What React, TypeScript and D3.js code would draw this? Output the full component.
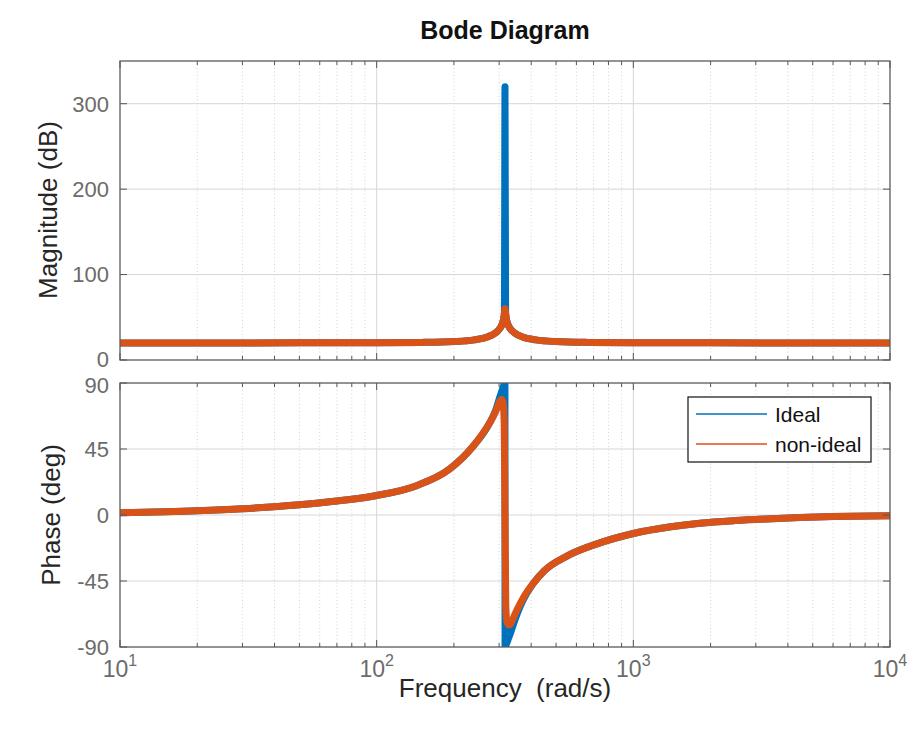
import React, { useEffect, useRef } from "react";
import * as d3 from "d3";

// magnitude traces, frequency in rad/s, values in dB
const magFreq = [10, 50, 100, 150, 200, 240, 270, 290, 302, 308, 312, 314.5, 316.2, 318, 320.5, 324.7, 331, 345, 370, 417, 500, 667, 1000, 2000, 10000];
const magIdeal = [20, 20.05, 20.2, 20.6, 21.6, 23.6, 27, 31.6, 36.9, 41.6, 47.5, 55.3, 320, 55.3, 47.5, 41.6, 36.9, 31.6, 27, 23.6, 21.6, 20.6, 20.2, 20.05, 20];
const magNonIdeal = [20, 20.05, 20.2, 20.6, 21.6, 23.6, 27, 31.6, 36.9, 41.6, 47, 54, 60, 54, 47, 41.6, 36.9, 31.6, 27, 23.6, 21.6, 20.6, 20.2, 20.05, 20];

// phase traces, degrees
const phaseFreqIdeal = [10, 20, 30, 50, 70, 100, 143, 193, 238, 276, 290, 302, 308, 312, 315, 316.1, 316.3, 317.5, 321, 325, 333, 345, 361, 380, 406, 450, 551, 741, 1000, 1400, 1815, 2500, 3310, 5990, 10000];
const phaseIdeal = [1.5, 2.9, 4.3, 7, 9.5, 13.3, 20, 31.5, 47, 63, 71, 80.5, 85, 88, 89.5, 90, -90, -89.5, -87.5, -85, -80, -72, -63, -55, -47, -38, -28, -19, -12.6, -8, -5.6, -3.8, -2.7, -1.1, -0.5];
const phaseFreqNonIdeal = [10, 20, 30, 50, 70, 100, 143, 193, 238, 276, 290, 302, 307, 311, 314, 316.2, 318.5, 322, 327, 333, 345, 361, 380, 406, 450, 551, 741, 1000, 1400, 1815, 2500, 3310, 5990, 10000];
const phaseNonIdeal = [1.5, 2.9, 4.3, 7, 9.5, 13.3, 20, 31.5, 47, 63, 70, 77.5, 79, 76, 62, 0, -62, -73, -75, -74, -68, -61, -54, -47, -38, -28, -19, -12.6, -8, -5.6, -3.8, -2.7, -1.1, -0.5];

const magTicks = [0, 100, 200, 300];
const phaseTicks = [-90, -45, 0, 45, 90];
const decades = [10, 100, 1000, 10000];
const seriesNames = ["Ideal", "non-ideal"];
const seriesColors = ["#0072BD", "#D95319"];

const W = 918;
const H = 745;
const left = 120;
const right = 890;
const FONT = "'Liberation Sans', Arial, Helvetica, sans-serif";

type Pt = [number, number];

const zip = (f: number[], v: number[]): Pt[] => f.map((d, i) => [d, v[i]]);

export default function App() {
  const ref = useRef<SVGSVGElement | null>(null);

  useEffect(() => {
    const svg = d3.select(ref.current);
    svg.selectAll("*").remove();

    svg.append("rect").attr("width", W).attr("height", H).attr("fill", "#fff");

    const x = d3.scaleLog().domain([10, 10000]).range([left, right]);
    const minor: number[] = [];
    [10, 100, 1000].forEach((d) => {
      for (let k = 2; k <= 9; k++) minor.push(d * k);
    });

    const panel = (
      id: string,
      top: number,
      bottom: number,
      domain: [number, number],
      ticks: number[],
      series: Pt[][],
      labelShift: (t: number) => number
    ) => {
      const y = d3.scaleLinear().domain(domain).range([bottom, top]);
      const g = svg.append("g");

      g.append("clipPath")
        .attr("id", id)
        .append("rect")
        .attr("x", left)
        .attr("y", top)
        .attr("width", right - left)
        .attr("height", bottom - top);

      // minor grid (dotted) and major grid
      g.selectAll(".mg")
        .data(minor)
        .join("line")
        .attr("x1", (d) => x(d))
        .attr("x2", (d) => x(d))
        .attr("y1", top)
        .attr("y2", bottom)
        .attr("stroke", "#d4d4d4")
        .attr("stroke-width", 1)
        .attr("stroke-dasharray", "1,2.5");
      g.selectAll(".xg")
        .data([100, 1000])
        .join("line")
        .attr("x1", (d) => x(d))
        .attr("x2", (d) => x(d))
        .attr("y1", top)
        .attr("y2", bottom)
        .attr("stroke", "#d6d6d6");
      g.selectAll(".yg")
        .data(ticks.filter((t) => y(t) > top + 1 && y(t) < bottom - 1))
        .join("line")
        .attr("x1", left)
        .attr("x2", right)
        .attr("y1", (d) => y(d))
        .attr("y2", (d) => y(d))
        .attr("stroke", "#d6d6d6");

      const line = d3
        .line<Pt>()
        .x((d) => x(d[0]))
        .y((d) => y(d[1]))
        .curve(d3.curveMonotoneX);

      const plot = g.append("g").attr("clip-path", `url(#${id})`);
      series.forEach((s, i) => {
        plot
          .append("path")
          .datum(s)
          .attr("fill", "none")
          .attr("stroke", seriesColors[i])
          .attr("stroke-width", 7)
          .attr("stroke-linecap", "round")
          .attr("stroke-linejoin", "round")
          .attr("d", line);
      });

      // ticks on all four sides, pointing inward
      const tickCol = "#555";
      decades.forEach((d) => {
        g.append("line").attr("x1", x(d)).attr("x2", x(d)).attr("y1", bottom).attr("y2", bottom - 7).attr("stroke", tickCol);
        g.append("line").attr("x1", x(d)).attr("x2", x(d)).attr("y1", top).attr("y2", top + 7).attr("stroke", tickCol);
      });
      minor.forEach((d) => {
        g.append("line").attr("x1", x(d)).attr("x2", x(d)).attr("y1", bottom).attr("y2", bottom - 4).attr("stroke", tickCol);
        g.append("line").attr("x1", x(d)).attr("x2", x(d)).attr("y1", top).attr("y2", top + 4).attr("stroke", tickCol);
      });
      ticks.forEach((t) => {
        g.append("line").attr("x1", left).attr("x2", left + 7).attr("y1", y(t)).attr("y2", y(t)).attr("stroke", tickCol);
        g.append("line").attr("x1", right).attr("x2", right - 7).attr("y1", y(t)).attr("y2", y(t)).attr("stroke", tickCol);
      });

      g.append("rect")
        .attr("x", left)
        .attr("y", top)
        .attr("width", right - left)
        .attr("height", bottom - top)
        .attr("fill", "none")
        .attr("stroke", "#5a5a5a")
        .attr("stroke-width", 1.3);

      g.selectAll(".yl")
        .data(ticks)
        .join("text")
        .attr("x", left - 11)
        .attr("y", (d) => y(d) + labelShift(d))
        .attr("dy", "0.36em")
        .attr("text-anchor", "end")
        .attr("font-family", FONT)
        .attr("font-size", 22)
        .attr("fill", "#6b6b6b")
        .text((d) => String(d));

      return g;
    };

    panel(
      "clipMag",
      61,
      360,
      [0, 350],
      magTicks,
      [zip(magFreq, magIdeal), zip(magFreq, magNonIdeal)],
      (t) => (t === 0 ? -1 : 0)
    );
    panel(
      "clipPhase",
      383,
      647,
      [-90, 90],
      phaseTicks,
      [zip(phaseFreqIdeal, phaseIdeal), zip(phaseFreqNonIdeal, phaseNonIdeal)],
      (t) => (t === 90 ? 2 : 0)
    );

    // x tick labels as powers of ten
    decades.forEach((d) => {
      const t = svg
        .append("text")
        .attr("x", x(d))
        .attr("y", 677)
        .attr("text-anchor", "middle")
        .attr("font-family", FONT)
        .attr("font-size", 23)
        .attr("fill", "#6b6b6b");
      t.append("tspan").text("10");
      t.append("tspan")
        .attr("dy", -11)
        .attr("font-size", 16)
        .text(String(Math.round(Math.log10(d))));
    });

    svg.append("text")
      .attr("x", 505)
      .attr("y", 39)
      .attr("text-anchor", "middle")
      .attr("font-family", FONT)
      .attr("font-weight", "bold")
      .attr("font-size", 25)
      .attr("fill", "#111")
      .text("Bode Diagram");

    svg.append("text")
      .attr("x", 505)
      .attr("y", 697)
      .attr("text-anchor", "middle")
      .attr("font-family", FONT)
      .attr("font-size", 26)
      .attr("fill", "#262626")
      .style("white-space", "pre")
      .text("Frequency  (rad/s)");

    const ylab = (label: string, cx: number, cy: number) =>
      svg.append("text")
        .attr("transform", `translate(${cx},${cy}) rotate(-90)`)
        .attr("text-anchor", "middle")
        .attr("dy", "0.35em")
        .attr("font-family", FONT)
        .attr("font-size", 26)
        .attr("fill", "#262626")
        .text(label);
    ylab("Magnitude (dB)", 48, 210);
    ylab("Phase (deg)", 51, 515);

    // legend
    const lg = svg.append("g");
    lg.append("rect")
      .attr("x", 688)
      .attr("y", 397)
      .attr("width", 183)
      .attr("height", 65)
      .attr("fill", "#fff")
      .attr("stroke", "#111")
      .attr("stroke-width", 1.2);
    seriesNames.forEach((name, i) => {
      const ly = 414 + i * 30;
      lg.append("line")
        .attr("x1", 696)
        .attr("x2", 767)
        .attr("y1", ly)
        .attr("y2", ly)
        .attr("stroke", seriesColors[i])
        .attr("stroke-width", 1.6);
      lg.append("text")
        .attr("x", 775)
        .attr("y", ly)
        .attr("dy", "0.36em")
        .attr("font-family", FONT)
        .attr("font-size", 21)
        .attr("fill", "#111")
        .text(name);
    });
  }, []);

  return (
    <svg
      ref={ref}
      width={W}
      height={H}
      style={{ position: "absolute", left: 0, top: 0, display: "block" }}
    />
  );
}
